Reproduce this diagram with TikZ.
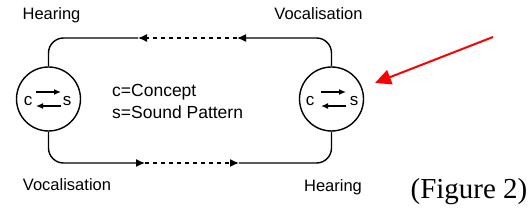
\documentclass[tikz,border=0pt]{standalone}
\usepackage{fontspec}
\setmainfont{Liberation Sans}
\newfontfamily\figfont{Liberation Serif}
\usetikzlibrary{arrows.meta}
\begin{document}
\begin{tikzpicture}[x=1pt,y=-1pt,
  lbl/.style={font=\fontsize{16.5}{18}\selectfont, inner sep=0pt},
  cs/.style={font=\fontsize{17}{19}\selectfont, inner sep=0pt},
  ring/.style={circle, draw, line width=1.4pt, minimum size=64pt, inner sep=0pt},
  wire/.style={line width=1.4pt, rounded corners=15pt},
  dashwire/.style={line width=1.4pt, dash pattern=on 4pt off 4pt},
  bigtip/.style={-{Latex[length=9pt,width=8pt]}},
  smalltip/.style={-{Latex[length=7pt,width=6pt]}, line width=1.4pt}
]
\useasboundingbox (0,0) rectangle (532,224);

% circles
\node[ring] (L) at (48.5,99) {};
\node[ring] (R) at (331.5,99) {};

% inside left circle
\node[cs] (Lc) at (28,101) {c};
\node[cs] (Ls) at (67,101) {s};
\coordinate (Lu1) at (36,92); \coordinate (Lu2) at (61,92);
\coordinate (Ld1) at (61,106); \coordinate (Ld2) at (36,106);
\draw[smalltip] (Lu1) -- (Lu2);
\draw[smalltip] (Ld1) -- (Ld2);

% inside right circle
\node[cs] (Rc) at (310,101) {c};
\node[cs] (Rs) at (354,101) {s};
\coordinate (Ru1) at (321,92); \coordinate (Ru2) at (346,92);
\coordinate (Rd1) at (346,106); \coordinate (Rd2) at (321,106);
\draw[smalltip] (Ru1) -- (Ru2);
\draw[smalltip] (Rd1) -- (Rd2);

% top path (right to left)
\coordinate (a1) at (138,38);
\coordinate (a2) at (237,38);
\draw[wire, bigtip] (R.north) |- (a2);
\draw[dashwire, bigtip] (a2) -- (a1);
\draw[wire] (a1) -| (L.north);

% bottom path (left to right)
\coordinate (b1) at (145,163);
\coordinate (b2) at (239,163);
\draw[wire, bigtip] (L.south) |- (b1);
\draw[dashwire, bigtip] (b1) -- (b2);
\draw[wire] (b2) -| (R.south);

% labels
\node[lbl] (h1) at (51.5,15) {Hearing};
\node[lbl] (v1) at (318.5,14) {Vocalisation};
\node[lbl] (v2) at (67,185) {Vocalisation};
\node[lbl] (h2) at (333,187) {Hearing};

% legend
\node[font=\fontsize{17.5}{20}\selectfont, inner sep=0pt, anchor=west] (lg1) at (112,92) {c=Concept};
\node[font=\fontsize{17.5}{20}\selectfont, inner sep=0pt, anchor=west] (lg2) at (112,112) {s=Sound Pattern};

% figure caption
\node[font=\figfont\fontsize{29}{32}\selectfont, inner sep=0pt] (fig) at (469,192) {(Figure 2)};

% red arrow
\coordinate (rs) at (493,37);
\coordinate (rt) at (375,83);
\draw[red, line width=2pt, -{Triangle[length=16pt,width=15pt]}] (rs) -- (rt);
\end{tikzpicture}
\end{document}
